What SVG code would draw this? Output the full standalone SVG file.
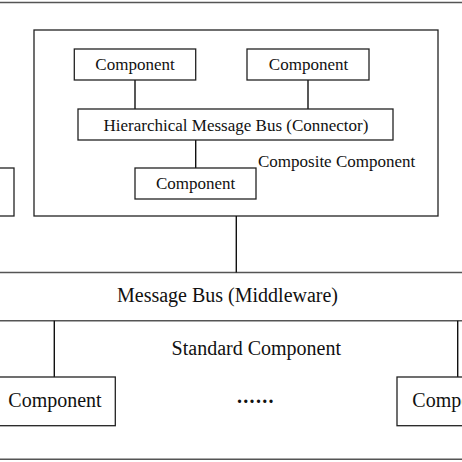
<svg xmlns="http://www.w3.org/2000/svg" width="462" height="462" viewBox="0 0 462 462">
<style>
.box{fill:#fff;stroke:#222;stroke-width:1.3}
.frame{fill:none;stroke:#222;stroke-width:1.3}
.bus{stroke:#555;stroke-width:1.6;fill:none}
.wire{stroke:#111;stroke-width:1.4;fill:none}
.t17{font-family:"Liberation Serif","Times New Roman",serif;font-size:17px;fill:#111}
.t20{font-family:"Liberation Serif","Times New Roman",serif;font-size:20px;fill:#111}
</style>
<rect width="462" height="462" fill="#fff"/>
<g id="composite">
<rect class="frame" x="34" y="30" width="404" height="186"/>
<text class="t17" x="258" y="167">Composite Component</text>
</g>
<g id="connectors">
<line class="bus" x1="0" y1="2.5" x2="462" y2="2.5"/>
<line class="bus" x1="0" y1="272.5" x2="462" y2="272.5"/>
<line class="bus" x1="0" y1="320.7" x2="462" y2="320.7"/>
<line class="bus" x1="0" y1="459.3" x2="462" y2="459.3"/>
<line class="wire" x1="135" y1="80" x2="135" y2="109"/>
<line class="wire" x1="308" y1="80" x2="308" y2="109"/>
<line class="wire" x1="195.7" y1="140" x2="195.7" y2="168"/>
<line class="wire" x1="236.3" y1="216" x2="236.3" y2="272.5"/>
<line class="wire" x1="54.3" y1="320.7" x2="54.3" y2="377"/>
<line class="wire" x1="457.7" y1="320.7" x2="457.7" y2="377"/>
</g>
<g id="comp-top-left">
<rect class="box" x="74.3" y="49" width="121.4" height="31"/>
<text class="t17" x="135" y="70" text-anchor="middle">Component</text>
</g>
<g id="comp-top-right">
<rect class="box" x="247" y="49" width="122" height="31"/>
<text class="t17" x="308.5" y="70" text-anchor="middle">Component</text>
</g>
<g id="hier-bus">
<rect class="box" x="78" y="109" width="315" height="31"/>
<text class="t17" x="236" y="130.5" text-anchor="middle">Hierarchical Message Bus (Connector)</text>
</g>
<g id="comp-inner">
<rect class="box" x="135" y="168" width="121" height="31"/>
<text class="t17" x="195.7" y="189" text-anchor="middle">Component</text>
</g>
<g id="left-partial">
<rect class="box" x="-10" y="168" width="24" height="48"/>
</g>
<g id="message-bus">
<text class="t20" x="227.5" y="302" text-anchor="middle">Message Bus (Middleware)</text>
</g>
<g id="standard-label">
<text class="t20" x="256.3" y="355" text-anchor="middle">Standard Component</text>
</g>
<g id="comp-bottom-left">
<rect class="box" x="-10" y="377" width="125.3" height="48.7"/>
<text class="t20" x="8.3" y="406.7">Component</text>
</g>
<g id="ellipsis">
<text class="t20" x="237" y="403" font-weight="bold" letter-spacing="1.3">......</text>
</g>
<g id="comp-bottom-right">
<rect class="box" x="397" y="377" width="80" height="48.7"/>
<text class="t20" x="412.3" y="406.7">Component</text>
</g>
</svg>
